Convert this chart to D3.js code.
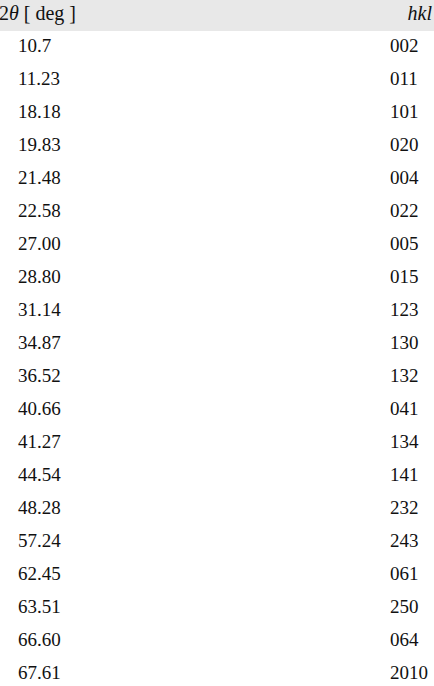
<!DOCTYPE html>
<html><head><meta charset="utf-8">
<script src="https://cdn.jsdelivr.net/npm/d3@7"></script>
<style>body{margin:0;background:#fff}</style>
</head><body><div id="a"></div>
<script>
var theta = ["10.7","11.23","18.18","19.83","21.48","22.58","27.00","28.80","31.14","34.87","36.52","40.66","41.27","44.54","48.28","57.24","62.45","63.51","66.60","67.61"];
var hkl = ["002","011","101","020","004","022","005","015","123","130","132","041","134","141","232","243","061","250","064","2010"];

var W = 434, H = 686;
var svg = d3.select("#a").append("svg").attr("width", W).attr("height", H)
	.style("font-family", "'Liberation Serif', 'DejaVu Serif', serif")
	.style("font-size", "19px");

svg.append("rect").attr("x", 0).attr("y", 0).attr("width", W).attr("height", 31).attr("fill", "#e8e8e8");
var head = svg.append("text").attr("x", -1).attr("y", 20).attr("fill", "#111").style("font-size", "20px");
head.append("tspan").text("2");
head.append("tspan").attr("font-style", "italic").text("θ");
head.append("tspan").text(" [ deg ]");
svg.append("text").attr("x", 432).attr("y", 20).attr("text-anchor", "end").style("font-size", "20px")
	.attr("font-style", "italic").attr("fill", "#111").text("hkl");

var y = d3.scaleBand().domain(d3.range(theta.length)).range([29, 689]);

var rows = svg.selectAll("g.row").data(theta).enter().append("g")
	.attr("transform", function(d, i){ return "translate(0," + (y(i) + y.bandwidth()/2) + ")"; });
rows.append("text").attr("x", 18).attr("dy", "0.35em").attr("fill", "#111").text(function(d){ return d; });
rows.append("text").attr("x", 390).attr("dy", "0.35em").attr("fill", "#111").text(function(d, i){ return hkl[i]; });
</script></body></html>
